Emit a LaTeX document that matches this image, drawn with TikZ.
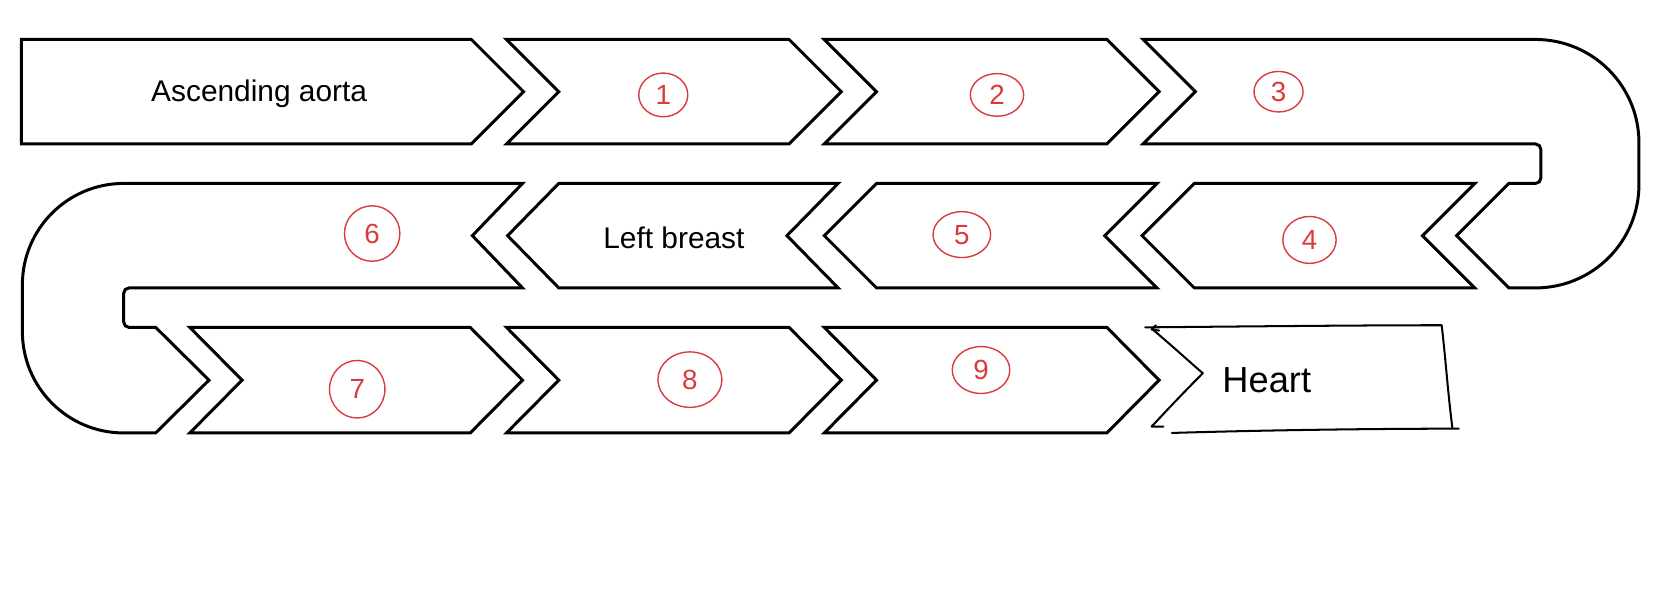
\documentclass[tikz,border=0pt]{standalone}
\usepackage{fontspec}
\setmainfont{Liberation Sans}
\usetikzlibrary{shapes.geometric}
\definecolor{handred}{RGB}{218,58,62}
\tikzset{
  blk/.style={draw=black, line width=2.8pt, line join=miter, fill=white},
  hand/.style={draw=black, line width=1.9pt, line cap=round, line join=round},
  numc/.style={ellipse, draw=handred, line width=1.3pt, text=handred, inner sep=0pt,
    font=\fontsize{26}{28}\selectfont},
  lbl/.style={font=\fontsize{28}{32}\selectfont, text=black}
}
\begin{document}
\begin{tikzpicture}[x=1pt,y=-1pt]
\useasboundingbox (0,0) rectangle (1568,566);
% ---------- Row 1 ----------
\draw[blk] (20,37) -- (442,37) -- (491,86) -- (442,135) -- (20,135) -- cycle;
\draw[blk] (475,37) -- (740,37) -- (789,86) -- (740,135) -- (475,135) -- (524,86) -- cycle;
\draw[blk] (773,37) -- (1038,37) -- (1087,86) -- (1038,135) -- (773,135) -- (822,86) -- cycle;
% right U-turn (box 3)
\draw[blk] (1072,37) -- (1440,37) arc[start angle=90, end angle=0, radius=97pt]
  -- (1537,173) arc[start angle=0, end angle=-90, radius=97pt]
  -- (1415,270) -- (1366,221) -- (1415,172) -- (1440,172)
  arc[start angle=-90, end angle=0, radius=5pt] -- (1445,140)
  arc[start angle=0, end angle=90, radius=5pt] -- (1072,135) -- (1121,86) -- cycle;
% ---------- Row 2 ----------
\draw[blk] (1120,172) -- (1383,172) -- (1334,221) -- (1383,270) -- (1120,270) -- (1071,221) -- cycle;
\draw[blk] (822,172) -- (1085,172) -- (1036,221) -- (1085,270) -- (822,270) -- (773,221) -- cycle;
\draw[blk] (524,172) -- (786,172) -- (738,221) -- (786,270) -- (524,270) -- (476,221) -- cycle;
% left U-turn (box 6)
\draw[blk] (490,172) -- (116,172) arc[start angle=90, end angle=180, radius=95pt]
  -- (21,311) arc[start angle=180, end angle=270, radius=95pt]
  -- (146,406) -- (196,356.5) -- (146,307) -- (121,307)
  arc[start angle=270, end angle=180, radius=5pt] -- (116,275)
  arc[start angle=180, end angle=90, radius=5pt] -- (490,270) -- (443,221) -- cycle;
% ---------- Row 3 ----------
\draw[blk] (178,307) -- (441,307) -- (490,356.5) -- (441,406) -- (178,406) -- (227,356.5) -- cycle;
\draw[blk] (475,307) -- (740,307) -- (789,356.5) -- (740,406) -- (475,406) -- (524,356.5) -- cycle;
\draw[blk] (773,307) -- (1038,307) -- (1087,356.5) -- (1038,406) -- (773,406) -- (822,356.5) -- cycle;
% hand-drawn Heart box
\draw[hand] (1074,307) .. controls (1180,306) and (1280,305) .. (1352,305)
  .. controls (1356,340) and (1358,370) .. (1362,401);
\draw[hand] (1099,406) .. controls (1200,403) and (1300,402) .. (1368,402);
\draw[hand] (1084,305) -- (1080,309) -- (1087,310);
\draw[hand] (1081,309) .. controls (1100,325) and (1114,338) .. (1128,350)
  .. controls (1110,368) and (1094,385) .. (1080,400) -- (1091,400);
% ---------- texts ----------
\node[lbl] (asc) at (243,88) {Ascending aorta};
\node[lbl] (lb) at (632,223) {Left breast};
\node[font=\fontsize{34}{36}\selectfont, text=black] (heart) at (1188,357) {Heart};
% ---------- circled numbers ----------
\node[numc, minimum width=46pt, minimum height=41pt] (n1) at (622,89) {1};
\node[numc, minimum width=50pt, minimum height=40pt] (n2) at (935,89) {2};
\node[numc, minimum width=46pt, minimum height=38pt] (n3) at (1199,86) {3};
\node[numc, minimum width=50pt, minimum height=44pt] (n4) at (1228,225) {4};
\node[numc, minimum width=54pt, minimum height=43pt] (n5) at (902,220) {5};
\node[numc, minimum width=52pt, minimum height=52pt] (n6) at (349,219) {6};
\node[numc, minimum width=52pt, minimum height=54pt] (n7) at (335,365) {7};
\node[numc, minimum width=60pt, minimum height=52pt] (n8) at (647,356) {8};
\node[numc, minimum width=54pt, minimum height=44pt] (n9) at (920,347) {9};
\end{tikzpicture}
\end{document}
